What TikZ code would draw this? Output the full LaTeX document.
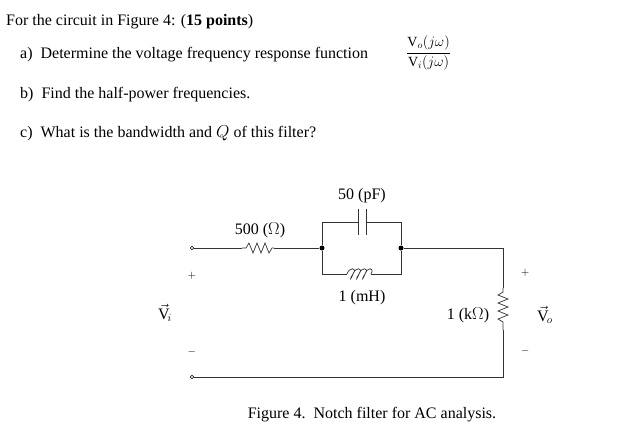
\documentclass[tikz,border=0pt]{standalone}
\usepackage{fontspec}
\setmainfont{Liberation Serif}
\usepackage{amsmath}
\begin{document}
\begin{tikzpicture}[x=1pt,y=-1pt,
  wire/.style={line width=0.7pt,black!80},
  lbl/.style={inner sep=0pt,font=\fontsize{16}{19}\selectfont},
  sgn/.style={inner sep=0pt,font=\fontsize{11}{12}\selectfont},
  term/.style={circle,draw,inner sep=0pt,minimum size=3.5pt,fill=white,line width=0.5pt},
  dot/.style={circle,fill,inner sep=0pt,minimum size=5pt}]
\useasboundingbox (0,0) rectangle (617,431);
% text
\node[lbl,anchor=west] (t0) at (6,22) {For the circuit in Figure 4: (\textbf{15 points})};
\node[lbl,anchor=west] (ta) at (20,55) {a)\ \ Determine the voltage frequency response function};
\node[lbl,anchor=west,font=\fontsize{14}{17}\selectfont] (tf) at (406,53) {$\dfrac{\mathrm{V}_o(j\omega)}{\mathrm{V}_i(j\omega)}$};
\node[lbl,anchor=west] (tb) at (20,95) {b)\ \ Find the half-power frequencies.};
\node[lbl,anchor=west] (tc) at (20,133) {c)\ \ What is the bandwidth and $Q$ of this filter?};
% nodes
\node[term] (a) at (192,248) {};
\node[term] (g) at (192,377) {};
\coordinate (r1a) at (242,248);
\coordinate (r1b) at (274,248);
\node[dot] (n1) at (322,248) {};
\node[dot] (n2) at (401,248) {};
\coordinate (c1) at (358,222);
\coordinate (c2) at (366,222);
\coordinate (l1) at (347,274);
\coordinate (l2) at (371,274);
\coordinate (tr) at (503,248);
\coordinate (r2a) at (503,288);
\coordinate (r2b) at (503,330);
\coordinate (br) at (503,377);
% wires
\draw[wire] (a) -- (r1a);
\draw[wire] (r1a) -- ++(4,0) -- ++(3,-5) -- ++(4,10) -- ++(4,-10) -- ++(4,10) -- ++(4,-10) -- ++(4,10) -- ++(3,-5) -- (r1b);
\draw[wire] (r1b) -- (n1);
\draw[wire] (n1) -- (n1 |- c1) -- (c1);
\draw[wire] (c2) -- (n2 |- c2) -- (n2);
\draw[wire] (c1) ++(0,-13) -- ++(0,26);
\draw[wire] (c2) ++(0,-13) -- ++(0,26);
\draw[wire] (n1) -- (n1 |- l1) -- (l1);
\draw[wire] (l2) -- (n2 |- l2) -- (n2);
\draw[wire] (l1) .. controls +(2,-7) and +(5,-7) .. ++(6,0) .. controls +(-2,6) and +(-4,6) .. ++(0,0)
  .. controls +(2,-7) and +(5,-7) .. ++(6,0) .. controls +(-2,6) and +(-4,6) .. ++(0,0)
  .. controls +(2,-7) and +(5,-7) .. ++(6,0) .. controls +(-2,6) and +(-4,6) .. ++(0,0)
  .. controls +(2,-7) and +(4,-7) .. (l2);
\draw[wire] (n2) -- (tr) -- (r2a);
\draw[wire] (r2a) -- ++(0,4) -- ++(-5,3) -- ++(10,4) -- ++(-10,4) -- ++(10,4) -- ++(-10,4) -- ++(10,4) -- ++(-10,4) -- ++(5,3) -- (r2b);
\draw[wire] (r2b) -- (br) -- (g);
% labels
\node[lbl] (l500) at (260,230) {500 ($\Omega$)};
\node[lbl] (l50) at (362,196) {50 (pF)};
\node[lbl] (l1m) at (362,298) {1 (mH)};
\node[lbl] (l1k) at (468,315) {1 (k$\Omega$)};
\node[sgn] (p1) at (192,276) {$+$};
\node[sgn] (m1) at (192,352) {$-$};
\node[sgn] (p2) at (525,273) {$+$};
\node[sgn] (m2) at (525,351) {$-$};
\node[lbl] (vi) at (165,313) {$\vec{\mathrm{V}}_{\!i}$};
\node[lbl] (vo) at (545,315) {$\vec{\mathrm{V}}_{\!o}$};
\node[lbl] (cap) at (372,415) {Figure 4.\ \ Notch filter for AC analysis.};
\end{tikzpicture}
\end{document}
